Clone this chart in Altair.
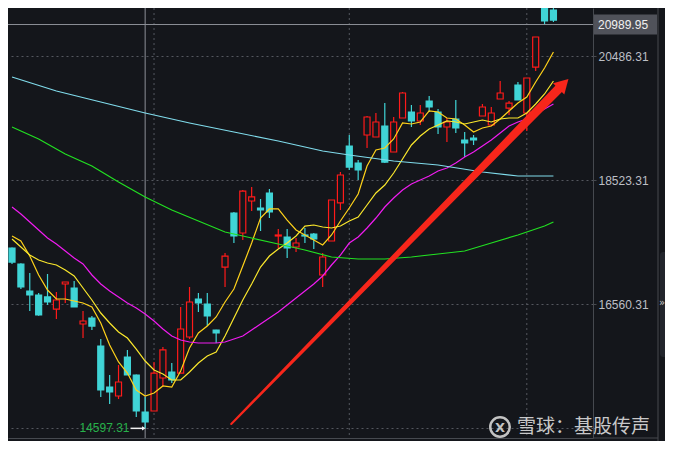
import altair as alt
import pandas as pd

# ---------------- data ----------------
idx = list(range(62))
opens = [17452, 17199, 16771, 16708, 16677, 16486, 16882, 16819, 16249, 16344,
         15901, 15252, 15109, 15727, 15442, 14856, 14872, 15394, 15489, 15473,
         16043, 16645, 16566, 16154, 17151, 18006, 17690, 18196, 18085, 18323,
         17642, 17626, 17468, 17658, 17674, 17025, 17563, 18165, 19067, 18798,
         19241, 19209, 19383, 18972, 19510, 19605, 19463, 19779, 19605, 19368,
         19494, 19162, 19193, 19542, 19399, 19811, 19668, 20032, 19589, 20317,
         21299, 21220]
highs = [17460, 17210, 17056, 16740, 17041, 16756, 16914, 16930, 16455, 16376,
         16012, 15442, 15600, 15838, 15450, 15094, 15648, 15885, 15632, 16518,
         16835, 16740, 16740, 16160, 17373, 18022, 18370, 18418, 18228, 18386,
         17753, 17753, 17610, 17769, 17690, 17373, 18212, 18655, 19241, 18845,
         19542, 19589, 19747, 19526, 19922, 19716, 19716, 19858, 19652, 19510,
         19795, 19288, 19241, 19732, 19684, 20096, 19779, 20080, 20143, 20792,
         21390, 21251]
lows = [17199, 16803, 16455, 16380, 16550, 16328, 16582, 16518, 16027, 16154,
        15094, 14983, 15062, 15442, 14777, 14597.31, 14872, 15268, 15315, 15473,
        16012, 16439, 16217, 15948, 16835, 17531, 17579, 18038, 17721, 17927,
        17452, 17294, 17389, 17531, 17436, 16835, 17563, 18054, 18687, 18529,
        19035, 19209, 18798, 18972, 19510, 19368, 19399, 19605, 19257, 19130,
        19273, 18893, 19083, 19542, 19383, 19811, 19558, 19795, 19304, 20254,
        20982, 21030]
closes = [17230, 16835, 16708, 16392, 16597, 16629, 16914, 16518, 16297, 16217,
          15204, 15173, 15331, 15442, 14872, 14698, 15473, 15838, 15363, 16170,
          16597, 16582, 16376, 16107, 17325, 17642, 18354, 18260, 18054, 18022,
          17658, 17452, 17531, 17642, 17595, 17310, 18212, 18608, 18734, 18687,
          19526, 19447, 18813, 19447, 19906, 19463, 19589, 19684, 19368, 19447,
          19352, 19114, 19162, 19684, 19589, 19906, 19747, 19795, 20143, 20792,
          21046, 21061]

ma5 = [17642, 17563, 17325, 17025, 16787, 16645, 16645, 16613, 16582, 16518,
       16265, 15917, 15648, 15473, 15204, 15109, 15157, 15268, 15252, 15505,
       15869, 16107, 16217, 16360, 16597, 16803, 17167, 17531, 17927, 18070,
       18070, 17895, 17737, 17658, 17579, 17500, 17658, 17880, 18085, 18307,
       18750, 19004, 19035, 19178, 19431, 19415, 19447, 19621, 19605, 19510,
       19494, 19399, 19288, 19352, 19383, 19494, 19621, 19747, 19842, 20080,
       20302, 20555]
ma10 = [17595, 17468, 17341, 17262, 17215, 17183, 17104, 17009, 16819, 16629,
        16423, 16265, 16122, 16027, 15853, 15663, 15521, 15458, 15363, 15363,
        15489, 15632, 15742, 15806, 16059, 16344, 16629, 16882, 17151, 17325,
        17436, 17531, 17642, 17800, 17816, 17785, 17769, 17800, 17880, 17943,
        18133, 18323, 18449, 18639, 18861, 19083, 19225, 19336, 19399, 19463,
        19447, 19415, 19447, 19478, 19447, 19494, 19510, 19510, 19589, 19732,
        19890, 20096]
ma20 = [18101, 17990, 17864, 17737, 17610, 17515, 17405, 17294, 17199, 17025,
        16882, 16771, 16677, 16582, 16502, 16407, 16297, 16170, 16059, 15996,
        15964, 15948, 15948, 15948, 15964, 16012, 16059, 16154, 16249, 16344,
        16439, 16550, 16661, 16771, 16882, 17009, 17183, 17341, 17531, 17626,
        17769, 17927, 18101, 18244, 18370, 18465, 18529, 18592, 18671, 18719,
        18798, 18893, 18972, 19067, 19162, 19273, 19383, 19447, 19494, 19573,
        19652, 19732]
ma60_idx = [0, 3, 6, 9, 12, 15, 18, 21, 24, 27, 30, 33, 36, 39, 42, 45, 48, 51, 54, 57, 60, 61]
ma60 = [19368, 19178, 18940, 18750, 18497, 18260, 18054, 17880, 17705, 17610, 17515,
        17420, 17310, 17278, 17278, 17310, 17357, 17405, 17531, 17658, 17800, 17864]
ma120_idx = [0, 5, 10, 15, 20, 25, 30, 35, 38, 43, 48, 53, 57, 61]
ma120 = [20159, 19938, 19763, 19589, 19431, 19288, 19146, 18988, 18924, 18829,
         18766, 18655, 18592, 18592]

grid_prices = [14597.31, 16560.31, 18523.31, 20486.31]
cross_price = 20989.95
cross_label = "20989.95"
cross_index = 15
low_price = 14597.31
low_label = "14597.31"
low_arrow_idx = [13.35, 14.85]
period_marks = [16, 38, 58]
arrow_idx = [24.70, 61.79]
arrow_price = [14666, 20001]
arrow_head_idx = [62.14]
arrow_head_price = [20050]
watermark = "雪球：基股传声"

# ---------------- styling ----------------
BG = "#14161b"
UP = "#ff1a1a"
DOWN = "#40d4d6"
GRID = "#54575f"
FRAME = "#46494f"
ARROW = "#f7261b"
MA_NAMES = ["MA5", "MA10", "MA20", "MA60", "MA120"]
MA_COLORS = ["#ffd21a", "#fbe82c", "#f01cf0", "#22e022", "#80dcec"]

W, H = 585, 430

candles = pd.DataFrame({"i": idx, "open": opens, "high": highs,
                        "low": lows, "close": closes})
candles["up"] = candles["close"] >= candles["open"]

ma_rows = []
for name, xs, vs in [("MA5", idx, ma5), ("MA10", idx, ma10), ("MA20", idx, ma20),
                     ("MA60", ma60_idx, ma60), ("MA120", ma120_idx, ma120)]:
    for a, b in zip(xs, vs):
        ma_rows.append({"i": a, "price": b, "ma": name})
mas = pd.DataFrame(ma_rows)

xscale = alt.Scale(domain=[0.11074, 64.8948], nice=False, zero=False)
yscale = alt.Scale(domain=[14444.5, 21251.4], nice=False, zero=False)
xaxis = alt.Axis(labels=False, ticks=False, grid=False, domainColor=FRAME,
                 title=None, orient="bottom")
yaxis = alt.Axis(orient="right", values=grid_prices,
                 labelExpr="datum.value < 15000 ? '' : format(datum.value, '.2f')",
                 labelColor="#bcbfc5", labelFont="Liberation Sans", labelFontSize=12,
                 labelPadding=2, tickSize=3, tickColor=FRAME, domainColor=FRAME,
                 grid=True, gridColor=GRID, gridDash=[2, 3], title=None)


def X(f="i"):
    return alt.X(f + ":Q", scale=xscale, axis=xaxis)


def Y(f="price"):
    return alt.Y(f + ":Q", scale=yscale, axis=yaxis)


one = pd.DataFrame({"k": [0]})
dir_stroke = alt.Stroke("up:N", scale=alt.Scale(domain=[True, False], range=[UP, DOWN]),
                        legend=None)

layers = []

# vertical dotted period lines
layers.append(
    alt.Chart(pd.DataFrame({"i": period_marks})).mark_rule(
        color=GRID, strokeDash=[2, 3], strokeWidth=1).encode(x=X())
)

# crosshair vertical
layers.append(
    alt.Chart(pd.DataFrame({"i": [cross_index]})).mark_rule(
        color="#8d9097", strokeWidth=1).encode(x=X())
)

# wicks
layers.append(
    alt.Chart(candles).mark_rule(strokeWidth=1.2, clip=True).encode(
        x=X(), y=Y("low"), y2=alt.Y2("high:Q"), stroke=dir_stroke)
)
# bodies
layers.append(
    alt.Chart(candles).mark_bar(size=6, strokeWidth=1.2, clip=True).encode(
        x=X(), y=Y("open"), y2=alt.Y2("close:Q"),
        fill=alt.Fill("up:N", scale=alt.Scale(domain=[True, False], range=[BG, DOWN]),
                      legend=None),
        stroke=dir_stroke)
)

# moving averages
layers.append(
    alt.Chart(mas).mark_line(strokeWidth=1.2, clip=True).encode(
        x=X(), y=Y(),
        color=alt.Color("ma:N", scale=alt.Scale(domain=MA_NAMES, range=MA_COLORS),
                        legend=None),
        order="i:Q")
)

# crosshair horizontal
layers.append(
    alt.Chart(pd.DataFrame({"price": [cross_price]})).mark_rule(
        color="#8d9097", strokeWidth=1).encode(y=Y())
)

# red arrow
layers.append(
    alt.Chart(pd.DataFrame({"i": arrow_idx, "price": arrow_price, "t": [0, 1]}))
    .mark_trail(color=ARROW, clip=True).encode(
        x=X(), y=Y(),
        size=alt.Size("t:Q", scale=alt.Scale(domain=[0, 1], range=[2, 9]), legend=None),
        order="t:Q")
)
layers.append(
    alt.Chart(pd.DataFrame({"i": arrow_head_idx, "price": arrow_head_price}))
    .mark_point(shape="triangle-up", filled=True, size=256, angle=45,
                color=ARROW, opacity=1).encode(x=X(), y=Y())
)

# low label
layers.append(
    alt.Chart(pd.DataFrame({"i": [low_arrow_idx[0]], "price": [low_price],
                            "label": [low_label]}))
    .mark_text(align="right", baseline="middle", color="#27b14a", fontSize=12,
               font="Liberation Sans", dx=-1).encode(x=X(), y=Y(), text="label:N")
)
layers.append(
    alt.Chart(pd.DataFrame({"i": [low_arrow_idx[0]], "i2": [low_arrow_idx[1]],
                            "price": [low_price]}))
    .mark_rule(color="#f2f2f2", strokeWidth=1.5).encode(
        x=X(), x2=alt.X2("i2:Q"), y=Y())
)
layers.append(
    alt.Chart(pd.DataFrame({"i": [low_arrow_idx[1]], "price": [low_price]}))
    .mark_point(shape="triangle-right", filled=True, size=18, color="#f2f2f2",
                opacity=1).encode(x=X(), y=Y())
)

# crosshair price label on the axis
layers.append(
    alt.Chart(pd.DataFrame({"price": [cross_price]}))
    .mark_point(shape="M-1,-0.317L1,-0.317L1,0.317L-1,0.317Z", size=3969,
                filled=True, color="#50525a", opacity=1)
    .encode(x=alt.value(617.5), y=Y())
)
layers.append(
    alt.Chart(pd.DataFrame({"price": [cross_price], "label": [cross_label]}))
    .mark_text(align="left", baseline="middle", color="#f0f0f0", fontSize=12,
               font="Liberation Sans")
    .encode(x=alt.value(590), y=Y(), text="label:N")
)

# frame pieces
layers.append(
    alt.Chart(one).mark_rule(color=FRAME, strokeWidth=1).encode(
        x=alt.value(650), y=alt.value(0), y2=alt.value(433))
)
layers.append(
    alt.Chart(one).mark_rule(color=FRAME, strokeWidth=1).encode(
        x=alt.value(585), x2=alt.value(650), y=alt.value(430))
)
# side tab
layers.append(
    alt.Chart(one).mark_rect(color="#22252c", cornerRadius=3).encode(
        x=alt.value(652), x2=alt.value(665), y=alt.value(244), y2=alt.value(349))
)
layers.append(
    alt.Chart(one).mark_text(text="»", color="#c8c8c8", fontSize=10,
                             font="DejaVu Sans", align="left", baseline="middle")
    .encode(x=alt.value(651), y=alt.value(295))
)

# watermark
layers.append(
    alt.Chart(one).mark_point(shape="circle", filled=False, size=380,
                              stroke="#d6d6d6", strokeWidth=2.5, opacity=0.9)
    .encode(x=alt.value(492), y=alt.value(419))
)
layers.append(
    alt.Chart(one).mark_text(text="X", color="#d6d6d6", fontSize=13,
                             font="DejaVu Sans", fontWeight="bold",
                             align="center", baseline="middle", opacity=0.9)
    .encode(x=alt.value(492), y=alt.value(420))
)
layers.append(
    alt.Chart(one).mark_text(text=watermark, color="#dcdcdc", fontSize=19,
                             font="Noto Sans CJK SC", align="left",
                             baseline="middle", opacity=0.9)
    .encode(x=alt.value(509), y=alt.value(419))
)

chart = alt.layer(*layers).properties(
    width=W, height=H,
    padding={"left": 0, "top": 0, "right": 72, "bottom": 3},
    autosize=alt.AutoSizeParams(type="none"),
    background=BG,
).configure_view(strokeWidth=0)

chart.save("out.html", embed_options={"renderer": "svg", "actions": False})
